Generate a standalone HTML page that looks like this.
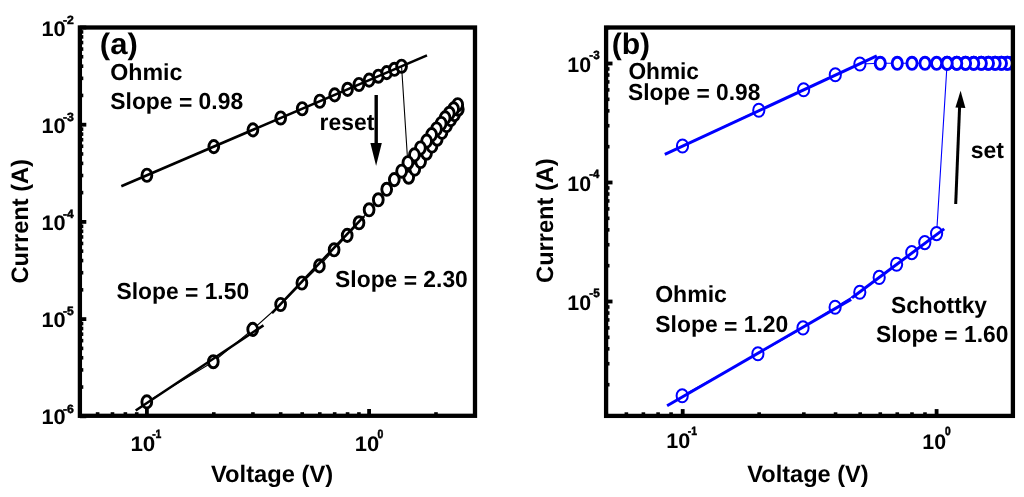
<!DOCTYPE html><html><head><meta charset="utf-8"><style>html,body{margin:0;padding:0;background:#fff;overflow:hidden}svg{display:block}</style></head><body>
<svg width="1024" height="497" viewBox="0 0 1024 497" font-family="'Liberation Sans', Arial, Helvetica, sans-serif" font-weight="bold">
<rect width="1024" height="497" fill="#fff"/>
<defs><clipPath id="ca"><rect x="79.9" y="27.5" width="395.1" height="388.3"/></clipPath><clipPath id="cb"><rect x="606.1" y="27.5" width="406.8" height="388.4"/></clipPath></defs>
<g clip-path="url(#ca)">
<polyline points="146.9,175.23 213.79,146.6 252.92,129.85 280.68,117.97 302.21,108.76 319.81,101.23 334.68,94.86 347.57,89.34 358.93,84.48 369.1,80.13 378.3,76.19 386.69,72.6 394.42,69.29 401.57,66.23" fill="none" stroke="#000" stroke-width="1.1" stroke-linejoin="round"/>
<ellipse cx="146.9" cy="175.23" rx="4.9" ry="6.1" fill="#fff" stroke="#000" stroke-width="2.9"/>
<ellipse cx="213.79" cy="146.6" rx="4.9" ry="6.1" fill="#fff" stroke="#000" stroke-width="2.9"/>
<ellipse cx="252.92" cy="129.85" rx="4.9" ry="6.1" fill="#fff" stroke="#000" stroke-width="2.9"/>
<ellipse cx="280.68" cy="117.97" rx="4.9" ry="6.1" fill="#fff" stroke="#000" stroke-width="2.9"/>
<ellipse cx="302.21" cy="108.76" rx="4.9" ry="6.1" fill="#fff" stroke="#000" stroke-width="2.9"/>
<ellipse cx="319.81" cy="101.23" rx="4.9" ry="6.1" fill="#fff" stroke="#000" stroke-width="2.9"/>
<ellipse cx="334.68" cy="94.86" rx="4.9" ry="6.1" fill="#fff" stroke="#000" stroke-width="2.9"/>
<ellipse cx="347.57" cy="89.34" rx="4.9" ry="6.1" fill="#fff" stroke="#000" stroke-width="2.9"/>
<ellipse cx="358.93" cy="84.48" rx="4.9" ry="6.1" fill="#fff" stroke="#000" stroke-width="2.9"/>
<ellipse cx="369.1" cy="80.13" rx="4.9" ry="6.1" fill="#fff" stroke="#000" stroke-width="2.9"/>
<ellipse cx="378.3" cy="76.19" rx="4.9" ry="6.1" fill="#fff" stroke="#000" stroke-width="2.9"/>
<ellipse cx="386.69" cy="72.6" rx="4.9" ry="6.1" fill="#fff" stroke="#000" stroke-width="2.9"/>
<ellipse cx="394.42" cy="69.29" rx="4.9" ry="6.1" fill="#fff" stroke="#000" stroke-width="2.9"/>
<ellipse cx="401.57" cy="66.23" rx="4.9" ry="6.1" fill="#fff" stroke="#000" stroke-width="2.9"/>
<polyline points="401.57,66.23 408.7,177.2 414.8,169.1 420.6,161.5 426.5,153.2 432,146 437.2,139.2 442,132.3 446.6,125.5 450.8,119.6 454.5,114.6 458.3,109.2" fill="none" stroke="#000" stroke-width="1.1" stroke-linejoin="round"/>
<ellipse cx="408.7" cy="177.2" rx="4.9" ry="6.1" fill="#fff" stroke="#000" stroke-width="2.9"/>
<ellipse cx="414.8" cy="169.1" rx="4.9" ry="6.1" fill="#fff" stroke="#000" stroke-width="2.9"/>
<ellipse cx="420.6" cy="161.5" rx="4.9" ry="6.1" fill="#fff" stroke="#000" stroke-width="2.9"/>
<ellipse cx="426.5" cy="153.2" rx="4.9" ry="6.1" fill="#fff" stroke="#000" stroke-width="2.9"/>
<ellipse cx="432" cy="146" rx="4.9" ry="6.1" fill="#fff" stroke="#000" stroke-width="2.9"/>
<ellipse cx="437.2" cy="139.2" rx="4.9" ry="6.1" fill="#fff" stroke="#000" stroke-width="2.9"/>
<ellipse cx="442" cy="132.3" rx="4.9" ry="6.1" fill="#fff" stroke="#000" stroke-width="2.9"/>
<ellipse cx="446.6" cy="125.5" rx="4.9" ry="6.1" fill="#fff" stroke="#000" stroke-width="2.9"/>
<ellipse cx="450.8" cy="119.6" rx="4.9" ry="6.1" fill="#fff" stroke="#000" stroke-width="2.9"/>
<ellipse cx="454.5" cy="114.6" rx="4.9" ry="6.1" fill="#fff" stroke="#000" stroke-width="2.9"/>
<ellipse cx="458.3" cy="109.2" rx="4.9" ry="6.1" fill="#fff" stroke="#000" stroke-width="2.9"/>
<polyline points="457.7,104.7 453.6,108.9 449.3,113.3 445.1,117.9 441.2,123.5 436.5,129 431.6,134.6 426.6,141.1 420.4,148 414.4,154.9 407.9,162.7 401.6,171.2 394.3,179.6 386.7,189.3 378.3,199.8 369.1,209.8 359,222.8 347.2,235.4 334.1,249.8 319.4,265.9 301.9,283 280.6,304.5 252.7,329.4 213.3,361.7 146.8,401.9" fill="none" stroke="#000" stroke-width="1.1" stroke-linejoin="round"/>
<ellipse cx="457.7" cy="104.7" rx="4.9" ry="6.1" fill="#fff" stroke="#000" stroke-width="2.9"/>
<ellipse cx="453.6" cy="108.9" rx="4.9" ry="6.1" fill="#fff" stroke="#000" stroke-width="2.9"/>
<ellipse cx="449.3" cy="113.3" rx="4.9" ry="6.1" fill="#fff" stroke="#000" stroke-width="2.9"/>
<ellipse cx="445.1" cy="117.9" rx="4.9" ry="6.1" fill="#fff" stroke="#000" stroke-width="2.9"/>
<ellipse cx="441.2" cy="123.5" rx="4.9" ry="6.1" fill="#fff" stroke="#000" stroke-width="2.9"/>
<ellipse cx="436.5" cy="129" rx="4.9" ry="6.1" fill="#fff" stroke="#000" stroke-width="2.9"/>
<ellipse cx="431.6" cy="134.6" rx="4.9" ry="6.1" fill="#fff" stroke="#000" stroke-width="2.9"/>
<ellipse cx="426.6" cy="141.1" rx="4.9" ry="6.1" fill="#fff" stroke="#000" stroke-width="2.9"/>
<ellipse cx="420.4" cy="148" rx="4.9" ry="6.1" fill="#fff" stroke="#000" stroke-width="2.9"/>
<ellipse cx="414.4" cy="154.9" rx="4.9" ry="6.1" fill="#fff" stroke="#000" stroke-width="2.9"/>
<ellipse cx="407.9" cy="162.7" rx="4.9" ry="6.1" fill="#fff" stroke="#000" stroke-width="2.9"/>
<ellipse cx="401.6" cy="171.2" rx="4.9" ry="6.1" fill="#fff" stroke="#000" stroke-width="2.9"/>
<ellipse cx="394.3" cy="179.6" rx="4.9" ry="6.1" fill="#fff" stroke="#000" stroke-width="2.9"/>
<ellipse cx="386.7" cy="189.3" rx="4.9" ry="6.1" fill="#fff" stroke="#000" stroke-width="2.9"/>
<ellipse cx="378.3" cy="199.8" rx="4.9" ry="6.1" fill="#fff" stroke="#000" stroke-width="2.9"/>
<ellipse cx="369.1" cy="209.8" rx="4.9" ry="6.1" fill="#fff" stroke="#000" stroke-width="2.9"/>
<ellipse cx="359" cy="222.8" rx="4.9" ry="6.1" fill="#fff" stroke="#000" stroke-width="2.9"/>
<ellipse cx="347.2" cy="235.4" rx="4.9" ry="6.1" fill="#fff" stroke="#000" stroke-width="2.9"/>
<ellipse cx="334.1" cy="249.8" rx="4.9" ry="6.1" fill="#fff" stroke="#000" stroke-width="2.9"/>
<ellipse cx="319.4" cy="265.9" rx="4.9" ry="6.1" fill="#fff" stroke="#000" stroke-width="2.9"/>
<ellipse cx="301.9" cy="283" rx="4.9" ry="6.1" fill="#fff" stroke="#000" stroke-width="2.9"/>
<ellipse cx="280.6" cy="304.5" rx="4.9" ry="6.1" fill="#fff" stroke="#000" stroke-width="2.9"/>
<ellipse cx="252.7" cy="329.4" rx="4.9" ry="6.1" fill="#fff" stroke="#000" stroke-width="2.9"/>
<ellipse cx="213.3" cy="361.7" rx="4.9" ry="6.1" fill="#fff" stroke="#000" stroke-width="2.9"/>
<ellipse cx="146.8" cy="401.9" rx="4.9" ry="6.1" fill="#fff" stroke="#000" stroke-width="2.9"/>
<line x1="121.3" y1="186.19" x2="427" y2="55.35" stroke="#000" stroke-width="2.6" stroke-linecap="butt"/>
<line x1="135.7" y1="410.5" x2="263.5" y2="325.3" stroke="#000" stroke-width="2.6" stroke-linecap="butt"/>
<line x1="272" y1="313.2" x2="364" y2="216.3" stroke="#000" stroke-width="2.6" stroke-linecap="butt"/>
</g>
<rect x="78.21" y="412.2" width="3.6" height="3.6" fill="#000"/>
<rect x="95.81" y="412.2" width="3.6" height="3.6" fill="#000"/>
<rect x="110.68" y="412.2" width="3.6" height="3.6" fill="#000"/>
<rect x="123.57" y="412.2" width="3.6" height="3.6" fill="#000"/>
<rect x="134.93" y="412.2" width="3.6" height="3.6" fill="#000"/>
<rect x="145" y="409" width="3.8" height="6.8" fill="#000"/>
<rect x="211.99" y="412.2" width="3.6" height="3.6" fill="#000"/>
<rect x="251.12" y="412.2" width="3.6" height="3.6" fill="#000"/>
<rect x="278.88" y="412.2" width="3.6" height="3.6" fill="#000"/>
<rect x="300.41" y="412.2" width="3.6" height="3.6" fill="#000"/>
<rect x="318.01" y="412.2" width="3.6" height="3.6" fill="#000"/>
<rect x="332.88" y="412.2" width="3.6" height="3.6" fill="#000"/>
<rect x="345.77" y="412.2" width="3.6" height="3.6" fill="#000"/>
<rect x="357.13" y="412.2" width="3.6" height="3.6" fill="#000"/>
<rect x="367.2" y="409" width="3.8" height="6.8" fill="#000"/>
<rect x="434.19" y="412.2" width="3.6" height="3.6" fill="#000"/>
<rect x="473.32" y="412.2" width="3.6" height="3.6" fill="#000"/>
<rect x="79.9" y="414.4" width="6.4" height="3.8" fill="#000"/>
<rect x="79.9" y="385.24" width="3.4" height="3.6" fill="#000"/>
<rect x="79.9" y="368.12" width="3.4" height="3.6" fill="#000"/>
<rect x="79.9" y="355.98" width="3.4" height="3.6" fill="#000"/>
<rect x="79.9" y="346.56" width="3.4" height="3.6" fill="#000"/>
<rect x="79.9" y="338.86" width="3.4" height="3.6" fill="#000"/>
<rect x="79.9" y="332.36" width="3.4" height="3.6" fill="#000"/>
<rect x="79.9" y="326.72" width="3.4" height="3.6" fill="#000"/>
<rect x="79.9" y="321.75" width="3.4" height="3.6" fill="#000"/>
<rect x="79.9" y="317.2" width="6.4" height="3.8" fill="#000"/>
<rect x="79.9" y="288.04" width="3.4" height="3.6" fill="#000"/>
<rect x="79.9" y="270.92" width="3.4" height="3.6" fill="#000"/>
<rect x="79.9" y="258.78" width="3.4" height="3.6" fill="#000"/>
<rect x="79.9" y="249.36" width="3.4" height="3.6" fill="#000"/>
<rect x="79.9" y="241.66" width="3.4" height="3.6" fill="#000"/>
<rect x="79.9" y="235.16" width="3.4" height="3.6" fill="#000"/>
<rect x="79.9" y="229.52" width="3.4" height="3.6" fill="#000"/>
<rect x="79.9" y="224.55" width="3.4" height="3.6" fill="#000"/>
<rect x="79.9" y="220" width="6.4" height="3.8" fill="#000"/>
<rect x="79.9" y="190.84" width="3.4" height="3.6" fill="#000"/>
<rect x="79.9" y="173.72" width="3.4" height="3.6" fill="#000"/>
<rect x="79.9" y="161.58" width="3.4" height="3.6" fill="#000"/>
<rect x="79.9" y="152.16" width="3.4" height="3.6" fill="#000"/>
<rect x="79.9" y="144.46" width="3.4" height="3.6" fill="#000"/>
<rect x="79.9" y="137.96" width="3.4" height="3.6" fill="#000"/>
<rect x="79.9" y="132.32" width="3.4" height="3.6" fill="#000"/>
<rect x="79.9" y="127.35" width="3.4" height="3.6" fill="#000"/>
<rect x="79.9" y="122.8" width="6.4" height="3.8" fill="#000"/>
<rect x="79.9" y="93.64" width="3.4" height="3.6" fill="#000"/>
<rect x="79.9" y="76.52" width="3.4" height="3.6" fill="#000"/>
<rect x="79.9" y="64.38" width="3.4" height="3.6" fill="#000"/>
<rect x="79.9" y="54.96" width="3.4" height="3.6" fill="#000"/>
<rect x="79.9" y="47.26" width="3.4" height="3.6" fill="#000"/>
<rect x="79.9" y="40.76" width="3.4" height="3.6" fill="#000"/>
<rect x="79.9" y="35.12" width="3.4" height="3.6" fill="#000"/>
<rect x="79.9" y="30.15" width="3.4" height="3.6" fill="#000"/>
<rect x="79.9" y="25.6" width="6.4" height="3.8" fill="#000"/>
<rect x="79.9" y="27.5" width="395.1" height="388.3" fill="none" stroke="#000" stroke-width="4.3"/>
<line x1="376.2" y1="95" x2="376.2" y2="146" stroke="#000" stroke-width="3.4" stroke-linecap="butt"/>
<polygon points="370.4,143 381.8,143 376.1,165.8" fill="#000"/>
<g clip-path="url(#cb)">
<polyline points="682.2,395.7 757.9,353.7 803,327.9 835.1,307.3 859.8,292.2 879.2,277.4 896.6,264.2 911.8,252.6 924.8,242.6 936.6,233.6 947.11,63.3 956.7,63.3 965.53,63.3 973.7,63.3 981.31,63.3 988.43,63.3 995.11,63.3 1001.41,63.3 1007.38,63.3 1013.03,63.3" fill="none" stroke="#0000ff" stroke-width="1.1" stroke-linejoin="round"/>
<ellipse cx="682.2" cy="395.7" rx="5.6" ry="6.55" fill="#fff" stroke="#0000ff" stroke-width="2.0"/>
<ellipse cx="757.9" cy="353.7" rx="5.6" ry="6.55" fill="#fff" stroke="#0000ff" stroke-width="2.0"/>
<ellipse cx="803" cy="327.9" rx="5.6" ry="6.55" fill="#fff" stroke="#0000ff" stroke-width="2.0"/>
<ellipse cx="835.1" cy="307.3" rx="5.6" ry="6.55" fill="#fff" stroke="#0000ff" stroke-width="2.0"/>
<ellipse cx="859.8" cy="292.2" rx="5.6" ry="6.55" fill="#fff" stroke="#0000ff" stroke-width="2.0"/>
<ellipse cx="879.2" cy="277.4" rx="5.6" ry="6.55" fill="#fff" stroke="#0000ff" stroke-width="2.0"/>
<ellipse cx="896.6" cy="264.2" rx="5.6" ry="6.55" fill="#fff" stroke="#0000ff" stroke-width="2.0"/>
<ellipse cx="911.8" cy="252.6" rx="5.6" ry="6.55" fill="#fff" stroke="#0000ff" stroke-width="2.0"/>
<ellipse cx="924.8" cy="242.6" rx="5.6" ry="6.55" fill="#fff" stroke="#0000ff" stroke-width="2.0"/>
<ellipse cx="936.6" cy="233.6" rx="5.6" ry="6.55" fill="#fff" stroke="#0000ff" stroke-width="2.0"/>
<ellipse cx="947.11" cy="63.3" rx="5.1" ry="6.1" fill="#fff" stroke="#0000ff" stroke-width="2.9"/>
<ellipse cx="956.7" cy="63.3" rx="5.1" ry="6.1" fill="#fff" stroke="#0000ff" stroke-width="2.9"/>
<ellipse cx="965.53" cy="63.3" rx="5.1" ry="6.1" fill="#fff" stroke="#0000ff" stroke-width="2.9"/>
<ellipse cx="973.7" cy="63.3" rx="5.1" ry="6.1" fill="#fff" stroke="#0000ff" stroke-width="2.9"/>
<ellipse cx="981.31" cy="63.3" rx="5.1" ry="6.1" fill="#fff" stroke="#0000ff" stroke-width="2.9"/>
<ellipse cx="988.43" cy="63.3" rx="5.1" ry="6.1" fill="#fff" stroke="#0000ff" stroke-width="2.9"/>
<ellipse cx="995.11" cy="63.3" rx="5.1" ry="6.1" fill="#fff" stroke="#0000ff" stroke-width="2.9"/>
<ellipse cx="1001.41" cy="63.3" rx="5.1" ry="6.1" fill="#fff" stroke="#0000ff" stroke-width="2.9"/>
<ellipse cx="1007.38" cy="63.3" rx="5.1" ry="6.1" fill="#fff" stroke="#0000ff" stroke-width="2.9"/>
<ellipse cx="1013.03" cy="63.3" rx="5.1" ry="6.1" fill="#fff" stroke="#0000ff" stroke-width="2.9"/>
<polyline points="1013.03,63.3 1007.38,63.3 1001.41,63.3 995.11,63.3 988.43,63.3 981.31,63.3 973.7,63.3 965.53,63.3 956.7,63.3 947.11,63.3 936.6,63.3 924.98,63.3 911.99,63.3 897.27,63.3 880.27,63.3 859.9,64 835.3,74.8 803.6,89.7 758.8,110.2 682.5,146" fill="none" stroke="#0000ff" stroke-width="1.1" stroke-linejoin="round"/>
<ellipse cx="1013.03" cy="63.3" rx="5.1" ry="6.1" fill="#fff" stroke="#0000ff" stroke-width="2.9"/>
<ellipse cx="1007.38" cy="63.3" rx="5.1" ry="6.1" fill="#fff" stroke="#0000ff" stroke-width="2.9"/>
<ellipse cx="1001.41" cy="63.3" rx="5.1" ry="6.1" fill="#fff" stroke="#0000ff" stroke-width="2.9"/>
<ellipse cx="995.11" cy="63.3" rx="5.1" ry="6.1" fill="#fff" stroke="#0000ff" stroke-width="2.9"/>
<ellipse cx="988.43" cy="63.3" rx="5.1" ry="6.1" fill="#fff" stroke="#0000ff" stroke-width="2.9"/>
<ellipse cx="981.31" cy="63.3" rx="5.1" ry="6.1" fill="#fff" stroke="#0000ff" stroke-width="2.9"/>
<ellipse cx="973.7" cy="63.3" rx="5.1" ry="6.1" fill="#fff" stroke="#0000ff" stroke-width="2.9"/>
<ellipse cx="965.53" cy="63.3" rx="5.1" ry="6.1" fill="#fff" stroke="#0000ff" stroke-width="2.9"/>
<ellipse cx="956.7" cy="63.3" rx="5.1" ry="6.1" fill="#fff" stroke="#0000ff" stroke-width="2.9"/>
<ellipse cx="947.11" cy="63.3" rx="5.1" ry="6.1" fill="#fff" stroke="#0000ff" stroke-width="2.9"/>
<ellipse cx="936.6" cy="63.3" rx="5.1" ry="6.1" fill="#fff" stroke="#0000ff" stroke-width="2.9"/>
<ellipse cx="924.98" cy="63.3" rx="5.1" ry="6.1" fill="#fff" stroke="#0000ff" stroke-width="2.9"/>
<ellipse cx="911.99" cy="63.3" rx="5.1" ry="6.1" fill="#fff" stroke="#0000ff" stroke-width="2.9"/>
<ellipse cx="897.27" cy="63.3" rx="5.1" ry="6.1" fill="#fff" stroke="#0000ff" stroke-width="2.9"/>
<ellipse cx="880.27" cy="63.3" rx="5.1" ry="6.1" fill="#fff" stroke="#0000ff" stroke-width="2.9"/>
<ellipse cx="859.9" cy="64" rx="5.6" ry="6.55" fill="#fff" stroke="#0000ff" stroke-width="2.0"/>
<ellipse cx="835.3" cy="74.8" rx="5.6" ry="6.55" fill="#fff" stroke="#0000ff" stroke-width="2.0"/>
<ellipse cx="803.6" cy="89.7" rx="5.6" ry="6.55" fill="#fff" stroke="#0000ff" stroke-width="2.0"/>
<ellipse cx="758.8" cy="110.2" rx="5.6" ry="6.55" fill="#fff" stroke="#0000ff" stroke-width="2.0"/>
<ellipse cx="682.5" cy="146" rx="5.6" ry="6.55" fill="#fff" stroke="#0000ff" stroke-width="2.0"/>
<line x1="664.8" y1="154.4" x2="876.8" y2="55.9" stroke="#0000ff" stroke-width="3.0" stroke-linecap="butt"/>
<line x1="667.1" y1="405.7" x2="851.1" y2="299.4" stroke="#0000ff" stroke-width="3.0" stroke-linecap="butt"/>
<line x1="852" y1="297.8" x2="944.2" y2="228.9" stroke="#0000ff" stroke-width="3.0" stroke-linecap="butt"/>
</g>
<rect x="604.47" y="412.3" width="3.6" height="3.6" fill="#000"/>
<rect x="624.57" y="412.3" width="3.6" height="3.6" fill="#000"/>
<rect x="641.57" y="412.3" width="3.6" height="3.6" fill="#000"/>
<rect x="656.29" y="412.3" width="3.6" height="3.6" fill="#000"/>
<rect x="669.28" y="412.3" width="3.6" height="3.6" fill="#000"/>
<rect x="680.8" y="409.1" width="3.8" height="6.8" fill="#000"/>
<rect x="757.33" y="412.3" width="3.6" height="3.6" fill="#000"/>
<rect x="802.04" y="412.3" width="3.6" height="3.6" fill="#000"/>
<rect x="833.76" y="412.3" width="3.6" height="3.6" fill="#000"/>
<rect x="858.37" y="412.3" width="3.6" height="3.6" fill="#000"/>
<rect x="878.47" y="412.3" width="3.6" height="3.6" fill="#000"/>
<rect x="895.47" y="412.3" width="3.6" height="3.6" fill="#000"/>
<rect x="910.19" y="412.3" width="3.6" height="3.6" fill="#000"/>
<rect x="923.18" y="412.3" width="3.6" height="3.6" fill="#000"/>
<rect x="934.7" y="409.1" width="3.8" height="6.8" fill="#000"/>
<rect x="1011.23" y="412.3" width="3.6" height="3.6" fill="#000"/>
<rect x="606.1" y="382.88" width="3.4" height="3.6" fill="#000"/>
<rect x="606.1" y="361.92" width="3.4" height="3.6" fill="#000"/>
<rect x="606.1" y="347.05" width="3.4" height="3.6" fill="#000"/>
<rect x="606.1" y="335.52" width="3.4" height="3.6" fill="#000"/>
<rect x="606.1" y="326.1" width="3.4" height="3.6" fill="#000"/>
<rect x="606.1" y="318.13" width="3.4" height="3.6" fill="#000"/>
<rect x="606.1" y="311.23" width="3.4" height="3.6" fill="#000"/>
<rect x="606.1" y="305.15" width="3.4" height="3.6" fill="#000"/>
<rect x="606.1" y="299.6" width="6.4" height="3.8" fill="#000"/>
<rect x="606.1" y="263.88" width="3.4" height="3.6" fill="#000"/>
<rect x="606.1" y="242.92" width="3.4" height="3.6" fill="#000"/>
<rect x="606.1" y="228.05" width="3.4" height="3.6" fill="#000"/>
<rect x="606.1" y="216.52" width="3.4" height="3.6" fill="#000"/>
<rect x="606.1" y="207.1" width="3.4" height="3.6" fill="#000"/>
<rect x="606.1" y="199.13" width="3.4" height="3.6" fill="#000"/>
<rect x="606.1" y="192.23" width="3.4" height="3.6" fill="#000"/>
<rect x="606.1" y="186.15" width="3.4" height="3.6" fill="#000"/>
<rect x="606.1" y="180.6" width="6.4" height="3.8" fill="#000"/>
<rect x="606.1" y="144.88" width="3.4" height="3.6" fill="#000"/>
<rect x="606.1" y="123.92" width="3.4" height="3.6" fill="#000"/>
<rect x="606.1" y="109.05" width="3.4" height="3.6" fill="#000"/>
<rect x="606.1" y="97.52" width="3.4" height="3.6" fill="#000"/>
<rect x="606.1" y="88.1" width="3.4" height="3.6" fill="#000"/>
<rect x="606.1" y="80.13" width="3.4" height="3.6" fill="#000"/>
<rect x="606.1" y="73.23" width="3.4" height="3.6" fill="#000"/>
<rect x="606.1" y="67.15" width="3.4" height="3.6" fill="#000"/>
<rect x="606.1" y="61.6" width="6.4" height="3.8" fill="#000"/>
<rect x="606.1" y="25.88" width="3.4" height="3.6" fill="#000"/>
<rect x="606.1" y="27.5" width="406.8" height="388.4" fill="none" stroke="#000" stroke-width="4.3"/>
<line x1="955.7" y1="204" x2="959.7" y2="104" stroke="#000" stroke-width="3.0" stroke-linecap="butt"/>
<polygon points="955.4,107.6 965.4,108 960.6,90.8" fill="#000"/>
<g text-rendering="geometricPrecision" stroke="#000">
<text x="99.87" y="53.88" font-size="29.8" stroke="none" textLength="37.95" lengthAdjust="spacingAndGlyphs">(a)</text>
<text x="110.2" y="80.48" font-size="23.2" stroke="none" textLength="72.2" lengthAdjust="spacingAndGlyphs">Ohmic</text>
<text x="110.31" y="108.6" font-size="23.2" stroke="none" textLength="132.8" lengthAdjust="spacingAndGlyphs">Slope <tspan dy="1.4">=</tspan><tspan dy="-1.4"> 0.98</tspan></text>
<text x="319.61" y="130.2" font-size="23.2" stroke="none" textLength="54.71" lengthAdjust="spacingAndGlyphs">reset</text>
<text x="116.55" y="298.6" font-size="23.2" stroke="none" textLength="132.55" lengthAdjust="spacingAndGlyphs">Slope <tspan dy="1.4">=</tspan><tspan dy="-1.4"> 1.50</tspan></text>
<text x="335.08" y="286.6" font-size="23.2" stroke="none" textLength="132.75" lengthAdjust="spacingAndGlyphs">Slope <tspan dy="1.4">=</tspan><tspan dy="-1.4"> 2.30</tspan></text>
<text x="211.06" y="482.32" font-size="23.8" stroke="none" textLength="122.19" lengthAdjust="spacingAndGlyphs">Voltage (V)</text>
<text x="611.68" y="53.88" font-size="29.8" stroke="none" textLength="38.44" lengthAdjust="spacingAndGlyphs">(b)</text>
<text x="628.41" y="79.48" font-size="23.2" stroke="none" textLength="70.58" lengthAdjust="spacingAndGlyphs">Ohmic</text>
<text x="628.12" y="99.6" font-size="23.2" stroke="none" textLength="132.25" lengthAdjust="spacingAndGlyphs">Slope <tspan dy="1.4">=</tspan><tspan dy="-1.4"> 0.98</tspan></text>
<text x="970.76" y="158.2" font-size="23.2" stroke="none" textLength="33.22" lengthAdjust="spacingAndGlyphs">set</text>
<text x="655.17" y="302.48" font-size="23.2" stroke="none" textLength="71.78" lengthAdjust="spacingAndGlyphs">Ohmic</text>
<text x="655.24" y="332.1" font-size="23.2" stroke="none" textLength="133.11" lengthAdjust="spacingAndGlyphs">Slope <tspan dy="1.4">=</tspan><tspan dy="-1.4"> 1.20</tspan></text>
<text x="890.98" y="312.98" font-size="23.2" stroke="none" textLength="96.04" lengthAdjust="spacingAndGlyphs">Schottky</text>
<text x="875.96" y="341.6" font-size="23.2" stroke="none" textLength="132.39" lengthAdjust="spacingAndGlyphs">Slope <tspan dy="1.4">=</tspan><tspan dy="-1.4"> 1.60</tspan></text>
<text x="747.26" y="482.32" font-size="23.8" stroke="none" textLength="121.44" lengthAdjust="spacingAndGlyphs">Voltage (V)</text>
<text x="41.51" y="36.21" font-size="21.0" stroke="none" textLength="24.17" lengthAdjust="spacingAndGlyphs">10</text>
<text x="62.97" y="23.51" font-size="12.0" stroke-width="0.5" textLength="10.85" lengthAdjust="spacingAndGlyphs">-2</text>
<text x="41.51" y="133.21" font-size="21.0" stroke="none" textLength="24.17" lengthAdjust="spacingAndGlyphs">10</text>
<text x="62.96" y="120.5" font-size="12.0" stroke-width="0.5" textLength="10.92" lengthAdjust="spacingAndGlyphs">-3</text>
<text x="41.51" y="230.21" font-size="21.0" stroke="none" textLength="24.17" lengthAdjust="spacingAndGlyphs">10</text>
<text x="62.97" y="217.9" font-size="12.0" stroke-width="0.5" textLength="10.65" lengthAdjust="spacingAndGlyphs">-4</text>
<text x="41.51" y="327.21" font-size="21.0" stroke="none" textLength="24.17" lengthAdjust="spacingAndGlyphs">10</text>
<text x="62.97" y="314.9" font-size="12.0" stroke-width="0.5" textLength="10.7" lengthAdjust="spacingAndGlyphs">-5</text>
<text x="41.51" y="424.21" font-size="21.0" stroke="none" textLength="24.17" lengthAdjust="spacingAndGlyphs">10</text>
<text x="62.97" y="412.61" font-size="12.0" stroke-width="0.5" textLength="10.88" lengthAdjust="spacingAndGlyphs">-6</text>
<text x="567.34" y="72.17" font-size="21.0" stroke="none" textLength="23.77" lengthAdjust="spacingAndGlyphs">10</text>
<text x="589.25" y="59.48" font-size="12.0" stroke-width="0.5" textLength="10.35" lengthAdjust="spacingAndGlyphs">-3</text>
<text x="567.34" y="191.17" font-size="21.0" stroke="none" textLength="23.77" lengthAdjust="spacingAndGlyphs">10</text>
<text x="589.28" y="177.9" font-size="12.0" stroke-width="0.5" textLength="10.04" lengthAdjust="spacingAndGlyphs">-4</text>
<text x="567.34" y="310.17" font-size="21.0" stroke="none" textLength="23.77" lengthAdjust="spacingAndGlyphs">10</text>
<text x="589.27" y="296.9" font-size="12.0" stroke-width="0.5" textLength="10.42" lengthAdjust="spacingAndGlyphs">-5</text>
<text x="130.4" y="450.67" font-size="21.0" stroke="none" textLength="24.93" lengthAdjust="spacingAndGlyphs">10</text>
<text x="152.15" y="437.9" font-size="12.0" stroke-width="0.5" textLength="9.25" lengthAdjust="spacingAndGlyphs">-1</text>
<text x="354.76" y="450.63" font-size="21.0" stroke="none" textLength="24.44" lengthAdjust="spacingAndGlyphs">10</text>
<text x="377.45" y="437.59" font-size="12.0" stroke-width="0.5" textLength="5.83" lengthAdjust="spacingAndGlyphs">0</text>
<text x="666.21" y="448.1" font-size="21.0" stroke="none" textLength="23.96" lengthAdjust="spacingAndGlyphs">10</text>
<text x="687.78" y="435.4" font-size="12.0" stroke-width="0.5" textLength="9.28" lengthAdjust="spacingAndGlyphs">-1</text>
<text x="922.34" y="448.67" font-size="21.0" stroke="none" textLength="23.77" lengthAdjust="spacingAndGlyphs">10</text>
<text x="945.05" y="434.96" font-size="12.0" stroke-width="0.5" textLength="5.69" lengthAdjust="spacingAndGlyphs">0</text>
<text transform="translate(27.92,283.6) rotate(-90)" x="0" y="0" font-size="23.8" stroke="none" textLength="124.56" lengthAdjust="spacingAndGlyphs">Current (A)</text>
<text transform="translate(552.52,282.88) rotate(-90)" x="0" y="0" font-size="23.8" stroke="none" textLength="124.57" lengthAdjust="spacingAndGlyphs">Current (A)</text>
</g>
</svg></body></html>
